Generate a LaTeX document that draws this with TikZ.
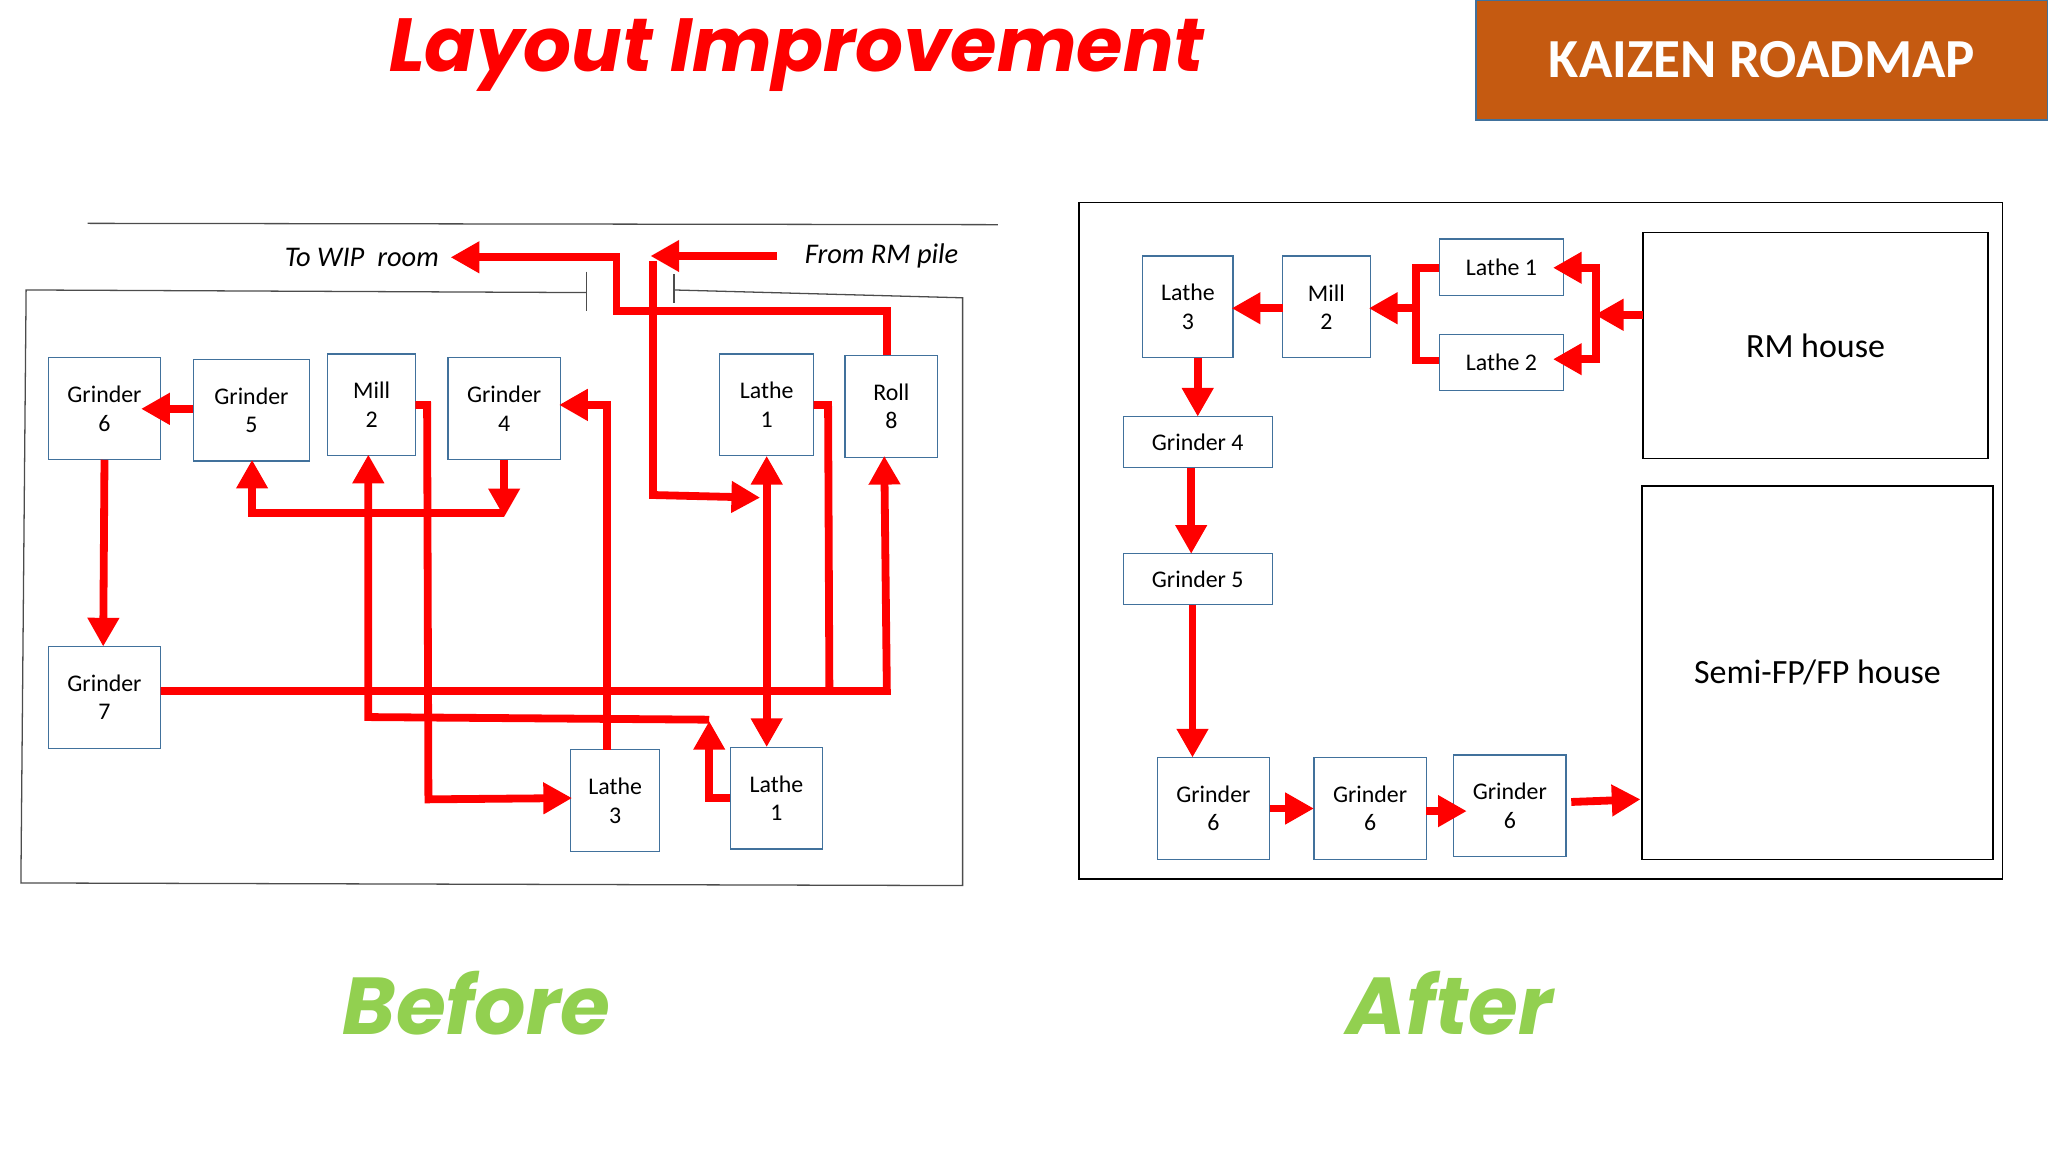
\documentclass[tikz,border=0pt]{standalone}
\usepackage{fontspec}
\setmainfont{Carlito}
\newfontfamily\titlefont{Poppins}
\usetikzlibrary{arrows.meta}
\definecolor{boxblue}{HTML}{41719C}
\definecolor{kz}{HTML}{C55A11}
\definecolor{grn}{HTML}{92D050}
\tikzset{
  box/.style={draw=boxblue,line width=1.3pt,inner sep=0pt,align=center,font=\fontsize{26}{31}\selectfont},
  house/.style={draw=black,line width=1.6pt,inner sep=0pt,align=center,font=\fontsize{37}{42}\selectfont},
  flow/.style={draw=red,line width=8.5pt},
  arr/.style={flow,-{Triangle[length=1.1cm,width=1.15cm]}},
  dbl/.style={flow,{Triangle[length=1.1cm,width=1.15cm]}-{Triangle[length=1.1cm,width=1.15cm]}},
  wall/.style={draw=black!70,line width=1.4pt}
}
\newcommand{\bx}[7][box]{\node[#1,minimum width={(#5-#3)*0.05cm},minimum height={(#6-#4)*0.05cm}] (#2) at ({(#3+#5)/2},{(#4+#6)/2}) {#7};}
\begin{document}
\begin{tikzpicture}[x=0.05cm,y=-0.05cm]
\useasboundingbox (0,0) rectangle (1568,882);
% title
\node[text=red,font=\titlefont\bfseries\itshape\fontsize{82}{90}\selectfont] (title) at (610,42) {Layout Improvement};
\node[fill=kz,draw=boxblue,line width=1.5pt,minimum width={438*0.05cm},minimum height={92*0.05cm},inner sep=0pt,text=white,font=\bfseries\fontsize{60}{66}\selectfont] (kaizen) at (1349,46) {KAIZEN ROADMAP};
% Before walls
\draw[wall] (67,171) -- (764,172);
\draw[wall] (449,224) -- (20,222) -- (16,676) -- (737,678) -- (737,228) -- (516,222);
\draw[wall] (449,208) -- (449,238);
\draw[wall] (516,210) -- (516,232);
\node[font=\itshape\fontsize{31}{34}\selectfont] (wip) at (277,197) {To WIP\ \ room};
\node[font=\itshape\fontsize{31}{34}\selectfont] (rm) at (675,196) {From RM pile};
% Before boxes
\bx{g6}{37}{274}{123}{352}{Grinder\\6}
\bx{g5}{148}{275}{237}{353}{Grinder\\5}
\bx{m2}{251}{271}{318}{349}{Mill\\2}
\bx{g4}{343}{274}{429}{352}{Grinder\\4}
\bx{l1}{551}{271}{623}{349}{Lathe\\1}
\bx{r8}{647}{272}{718}{350}{Roll\\8}
\bx{g7}{37}{495}{123}{573}{Grinder\\7}
\bx{l3}{437}{574}{505}{652}{Lathe\\3}
\bx{l1b}{559}{572}{630}{650}{Lathe\\1}
% Before arrows
\draw[arr] (679,272) -- (679,238) -- (472,238) -- (472,197) -- (345,197);
\draw[arr] (595,196) -- (498,196);
\draw[arr] (500,200) -- (500,379) -- (582,381);
\draw[arr] (g5.west|-0,313) -- (108,313);
\draw[arr] (80,352) -- (79,495);
\draw[arr] (386,352) -- (386,396);
\draw[arr] (386,393) -- (193,393) -- (193,352);
\draw[arr] (318,310) -- (327,310) -- (328,612) -- (438,611);
\draw[arr] (123,529) -- (679,529) -- (677,349);
\draw[flow] (635,529) -- (634,310) -- (623,310);
\draw[arr] (465,574) -- (465,310) -- (428,310);
\draw[arr] (543,551) -- (282,549) -- (282,348);
\draw[arr] (559,611) -- (543,611) -- (543,552);
\draw[dbl] (587,349) -- (587,572);
\node[text=grn,font=\titlefont\bfseries\itshape\fontsize{88}{96}\selectfont] (before) at (365,768) {Before};
% After
\draw[line width=1.6pt] (826,155) rectangle (1533,673);
\bx{al3}{875}{196}{944}{274}{Lathe\\3}
\bx{am2}{982}{196}{1049}{274}{Mill\\2}
\bx{al1}{1102}{183}{1197}{226}{Lathe 1}
\bx{al2}{1102}{256}{1197}{299}{Lathe 2}
\bx[house]{rmh}{1258}{178}{1522}{351}{RM house}
\bx{ag4}{860}{319}{974}{358}{Grinder 4}
\bx{ag5}{860}{424}{974}{463}{Grinder 5}
\bx[house]{fp}{1257}{372}{1526}{658}{Semi-FP/FP house}
\bx{ga}{886}{580}{972}{658}{Grinder\\6}
\bx{gb}{1006}{580}{1092}{658}{Grinder\\6}
\bx{gc}{1113}{578}{1199}{656}{Grinder\\6}
\draw[arr] (1258,241) -- (1221,241);
\draw[flow] (1222,202) -- (1222,278);
\draw[arr] (1225,205) -- (1189,205);
\draw[arr] (1225,275) -- (1189,275);
\draw[flow] (1102,205) -- (1084,205) -- (1084,276) -- (1102,276);
\draw[arr] (1084,236) -- (1048,236);
\draw[arr] (982,236) -- (943,236);
\draw[arr] (917,274) -- (917,319);
\draw[arr] (912,358) -- (912,424);
\draw[arr] (913,463) -- (913,580);
\draw[arr] (972,619) -- (1006,619);
\draw[arr] (1092,621) -- (1123,621);
\draw[arr] (1203,614) -- (1256,612);
\node[text=grn,font=\titlefont\bfseries\itshape\fontsize{88}{96}\selectfont] (after) at (1110,768) {After};
\end{tikzpicture}
\end{document}
